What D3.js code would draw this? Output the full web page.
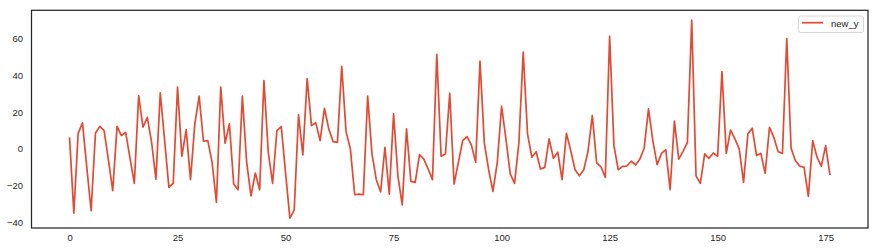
<!DOCTYPE html>
<html>
<head>
<meta charset="utf-8">
<script src="https://cdn.jsdelivr.net/npm/d3@7"></script>
<style>
  html, body { margin: 0; padding: 0; background: #fff; }
  svg { display: block; font-family: "Liberation Sans", Arial, sans-serif; }
</style>
</head>
<body>
<svg id="chart" width="878" height="251"></svg>
<script>
// ---- data ----
const seriesName = "new_y";
const newY = [
  6.3, -34.9, 8.5, 14.2, -10, -33.6, 8.5, 12.3, 10, -6,
  -22.7, 12.3, 7.3, 8.9, -5, -18.7, 29, 11.8, 17.2, 3.6,
  -16.4, 30.5, 5, -20.9, -18.7, 33.6, -4, 10.5, -16.7, 13.6,
  28.7, 4.2, 4.5, -7.3, -29.1, 33.6, 3.1, 13.6, -19.1, -22.2,
  28.7, -7.3, -25.5, -13.1, -22.2, 37.2, -1.8, -18.7, 10, 12.2,
  -13, -37.6, -33.3, 18.5, -3.3, 38.2, 12.7, 14.2, 4.5, 22.1,
  10.9, 4, 3.6, 44.9, 9.4, 0, -24.9, -24.6, -24.9, 28.7,
  -2.7, -16.7, -23.3, 0.9, -24.6, 19.1, -14.6, -30.4, 10.9, -17.6,
  -18.2, -3.1, -5.5, -10.9, -16.7, 51.4, -4, -2.7, 30.3, -19.1,
  -7.3, 4.5, 6.7, 2.2, -7.3, 47.8, 3.3, -11.3, -23.1, -7.3,
  23.2, 5.5, -13.6, -18.7, 3.3, 52.7, 8.2, -4.5, -1.5, -10.9,
  -10, 5.5, -5.1, -1.8, -16.7, 8.5, -0.9, -11.3, -14.6, -11.5,
  -1.3, 18.2, -7.6, -9.7, -15.5, 61.2, 1.8, -11.3, -9.5, -9.3,
  -6.7, -8.7, -5.5, 0.4, 21.8, 4.5, -8.5, -2.4, -0.4, -22.2,
  15.1, -5.5, -1.3, 3.6, 70, -14.6, -18.7, -2.7, -5.1, -2.2,
  -4, 42.1, -2.4, 10.3, 5.5, 0, -18.2, 8.2, 11.3, -3.6,
  -2.4, -13.3, 11.8, 6.3, -1.5, -2.4, 60, 0.4, -6.4, -9.3,
  -10, -25.8, 4.5, -4.5, -9.3, 1.8, -14.2
];
const xTicks = [0, 25, 50, 75, 100, 125, 150, 175];
const yTicks = [-40, -20, 0, 20, 40, 60];

// ---- layout ----
const svg = d3.select("#chart");
const frame = { left: 31.5, right: 868, top: 10.3, bottom: 228 };
const lineColor = "#E24A33";
const textColor = "#262626";

const n = newY.length;
const xPad = (n - 1) * 0.05;
const x = d3.scaleLinear()
  .domain([-xPad, (n - 1) + xPad])
  .range([frame.left, frame.right]);

const yMin = d3.min(newY), yMax = d3.max(newY);
const yPad = (yMax - yMin) * 0.05;
const y = d3.scaleLinear()
  .domain([yMin - yPad, yMax + yPad])
  .range([frame.bottom, frame.top]);

svg.append("rect").attr("width", 878).attr("height", 251).attr("fill", "#fff");

// axes (no tick marks, seaborn white style)
const yAxis = svg.append("g")
  .attr("transform", `translate(${frame.left},0)`)
  .call(d3.axisLeft(y).tickValues(yTicks).tickSize(0).tickPadding(8.5));
yAxis.select(".domain").remove();
yAxis.selectAll("text")
  .attr("fill", textColor)
  .style("font-size", "9.5px")
  .style("font-family", '"Liberation Sans", Arial, sans-serif');

const xAxis = svg.append("g")
  .attr("transform", `translate(0,${frame.bottom})`)
  .call(d3.axisBottom(x).tickValues(xTicks).tickSize(0).tickPadding(6));
xAxis.select(".domain").remove();
xAxis.selectAll("text")
  .attr("fill", textColor)
  .style("font-size", "9.5px")
  .style("font-family", '"Liberation Sans", Arial, sans-serif');

// line
const line = d3.line()
  .x((d, i) => x(i))
  .y(d => y(d));

svg.append("path")
  .datum(newY)
  .attr("fill", "none")
  .attr("stroke", lineColor)
  .attr("stroke-width", 1.7)
  .attr("stroke-linejoin", "round")
  .attr("d", line);

// frame
svg.append("rect")
  .attr("x", frame.left)
  .attr("y", frame.top)
  .attr("width", frame.right - frame.left)
  .attr("height", frame.bottom - frame.top)
  .attr("fill", "none")
  .attr("stroke", textColor)
  .attr("stroke-width", 1.25);

// legend
const lg = svg.append("g");
lg.append("rect")
  .attr("x", 798.5).attr("y", 16)
  .attr("width", 65).attr("height", 16.5)
  .attr("rx", 2)
  .attr("fill", "#fff")
  .attr("stroke", "#cccccc")
  .attr("stroke-width", 0.8);
lg.append("line")
  .attr("x1", 802).attr("x2", 823)
  .attr("y1", 22.7).attr("y2", 22.7)
  .attr("stroke", lineColor)
  .attr("stroke-width", 1.7);
lg.append("text")
  .attr("x", 831).attr("y", 26.6)
  .attr("fill", textColor)
  .style("font-size", "9.5px")
  .text(seriesName);
</script>
</body>
</html>
